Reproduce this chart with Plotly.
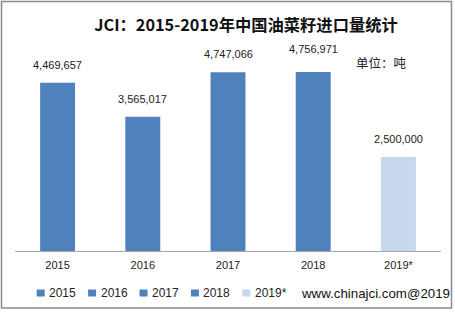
import plotly.graph_objects as go

years = ["2015", "2016", "2017", "2018", "2019*"]
values = [4469657, 3565017, 4747066, 4756971, 2500000]
labels = ["4,469,657", "3,565,017", "4,747,066", "4,756,971", "2,500,000"]
colors = ["#4F81BD", "#4F81BD", "#4F81BD", "#4F81BD", "#C6D7EE"]
label_shift = [10, 10, 10, 15, 10]

W, H = 455, 313
ml, mr, mt, mb = 15, 14, 44, 62
pw, ph = W - ml - mr, H - mt - mb

def px_x(p):
    return (p - ml) / pw

def px_y(p):
    return (H - mb - p) / ph

fig = go.Figure()
for yr, v, c in zip(years, values, colors):
    fig.add_trace(go.Bar(x=[yr], y=[v], name=yr, marker=dict(color=c, line=dict(width=0)),
                         width=0.41, hoverinfo="skip", showlegend=False))

for i, (v, lab, s) in enumerate(zip(values, labels, label_shift)):
    fig.add_annotation(x=i, y=v, text=lab, showarrow=False, yanchor="bottom", yshift=s,
                       font=dict(family="Liberation Sans, Arial", size=11, color="#222"))

# legend (custom, one entry per series)
leg_x0, leg_step, leg_y = 36.7, 51.4, 293.0
for i, (yr, c) in enumerate(zip(years, colors)):
    sx = leg_x0 + i * leg_step
    fig.add_shape(type="rect", xref="paper", yref="paper",
                  x0=px_x(sx), x1=px_x(sx + 8), y0=px_y(leg_y + 3.5), y1=px_y(leg_y - 3.5),
                  fillcolor=c, line=dict(width=0), layer="above")
    fig.add_annotation(xref="paper", yref="paper", x=px_x(sx + 10.5), y=px_y(leg_y),
                       text=yr, showarrow=False, xanchor="left", yanchor="middle",
                       font=dict(family="Liberation Sans, Arial", size=12, color="#222"))

fig.add_annotation(xref="paper", yref="paper", x=px_x(381), y=px_y(62), text="单位：吨",
                   xanchor="center", yanchor="middle",
                   showarrow=False, font=dict(family="Noto Sans CJK SC", size=12.5, color="#222"))
fig.add_annotation(xref="paper", yref="paper", x=px_x(375.5), y=px_y(293),
                   text="www.chinajci.com@2019", showarrow=False,
                   xanchor="center", yanchor="middle",
                   font=dict(family="Liberation Sans, Arial", size=13.3, color="#111"))

fig.add_shape(type="rect", xref="paper", yref="paper",
              x0=px_x(1.5), x1=px_x(451.5), y0=px_y(308), y1=px_y(1.5),
              line=dict(color="#8a8a8a", width=1.5), layer="above")

fig.update_layout(
    width=W, height=H,
    margin=dict(l=ml, r=mr, t=mt, b=mb),
    paper_bgcolor="white", plot_bgcolor="white",
    barmode="overlay",
    title=dict(text="<b>JCI：2015-2019年中国油菜籽进口量统计</b>", x=246 / W, xanchor="center",
               y=1 - 25 / H, yanchor="middle",
               font=dict(family="Noto Sans CJK SC", size=16.3, color="#111")),
    xaxis=dict(type="category", categoryorder="array", categoryarray=years,
               range=[-0.5, len(years) - 0.5],
               showline=True, linecolor="#a6a6a6", linewidth=1,
               ticks="", ticklabelstandoff=4,
               tickfont=dict(family="Liberation Sans, Arial", size=11, color="#222"),
               showgrid=False),
    yaxis=dict(range=[0, 5.5e6], visible=False, showgrid=False),
    showlegend=False,
)

fig.write_html("out.html")
